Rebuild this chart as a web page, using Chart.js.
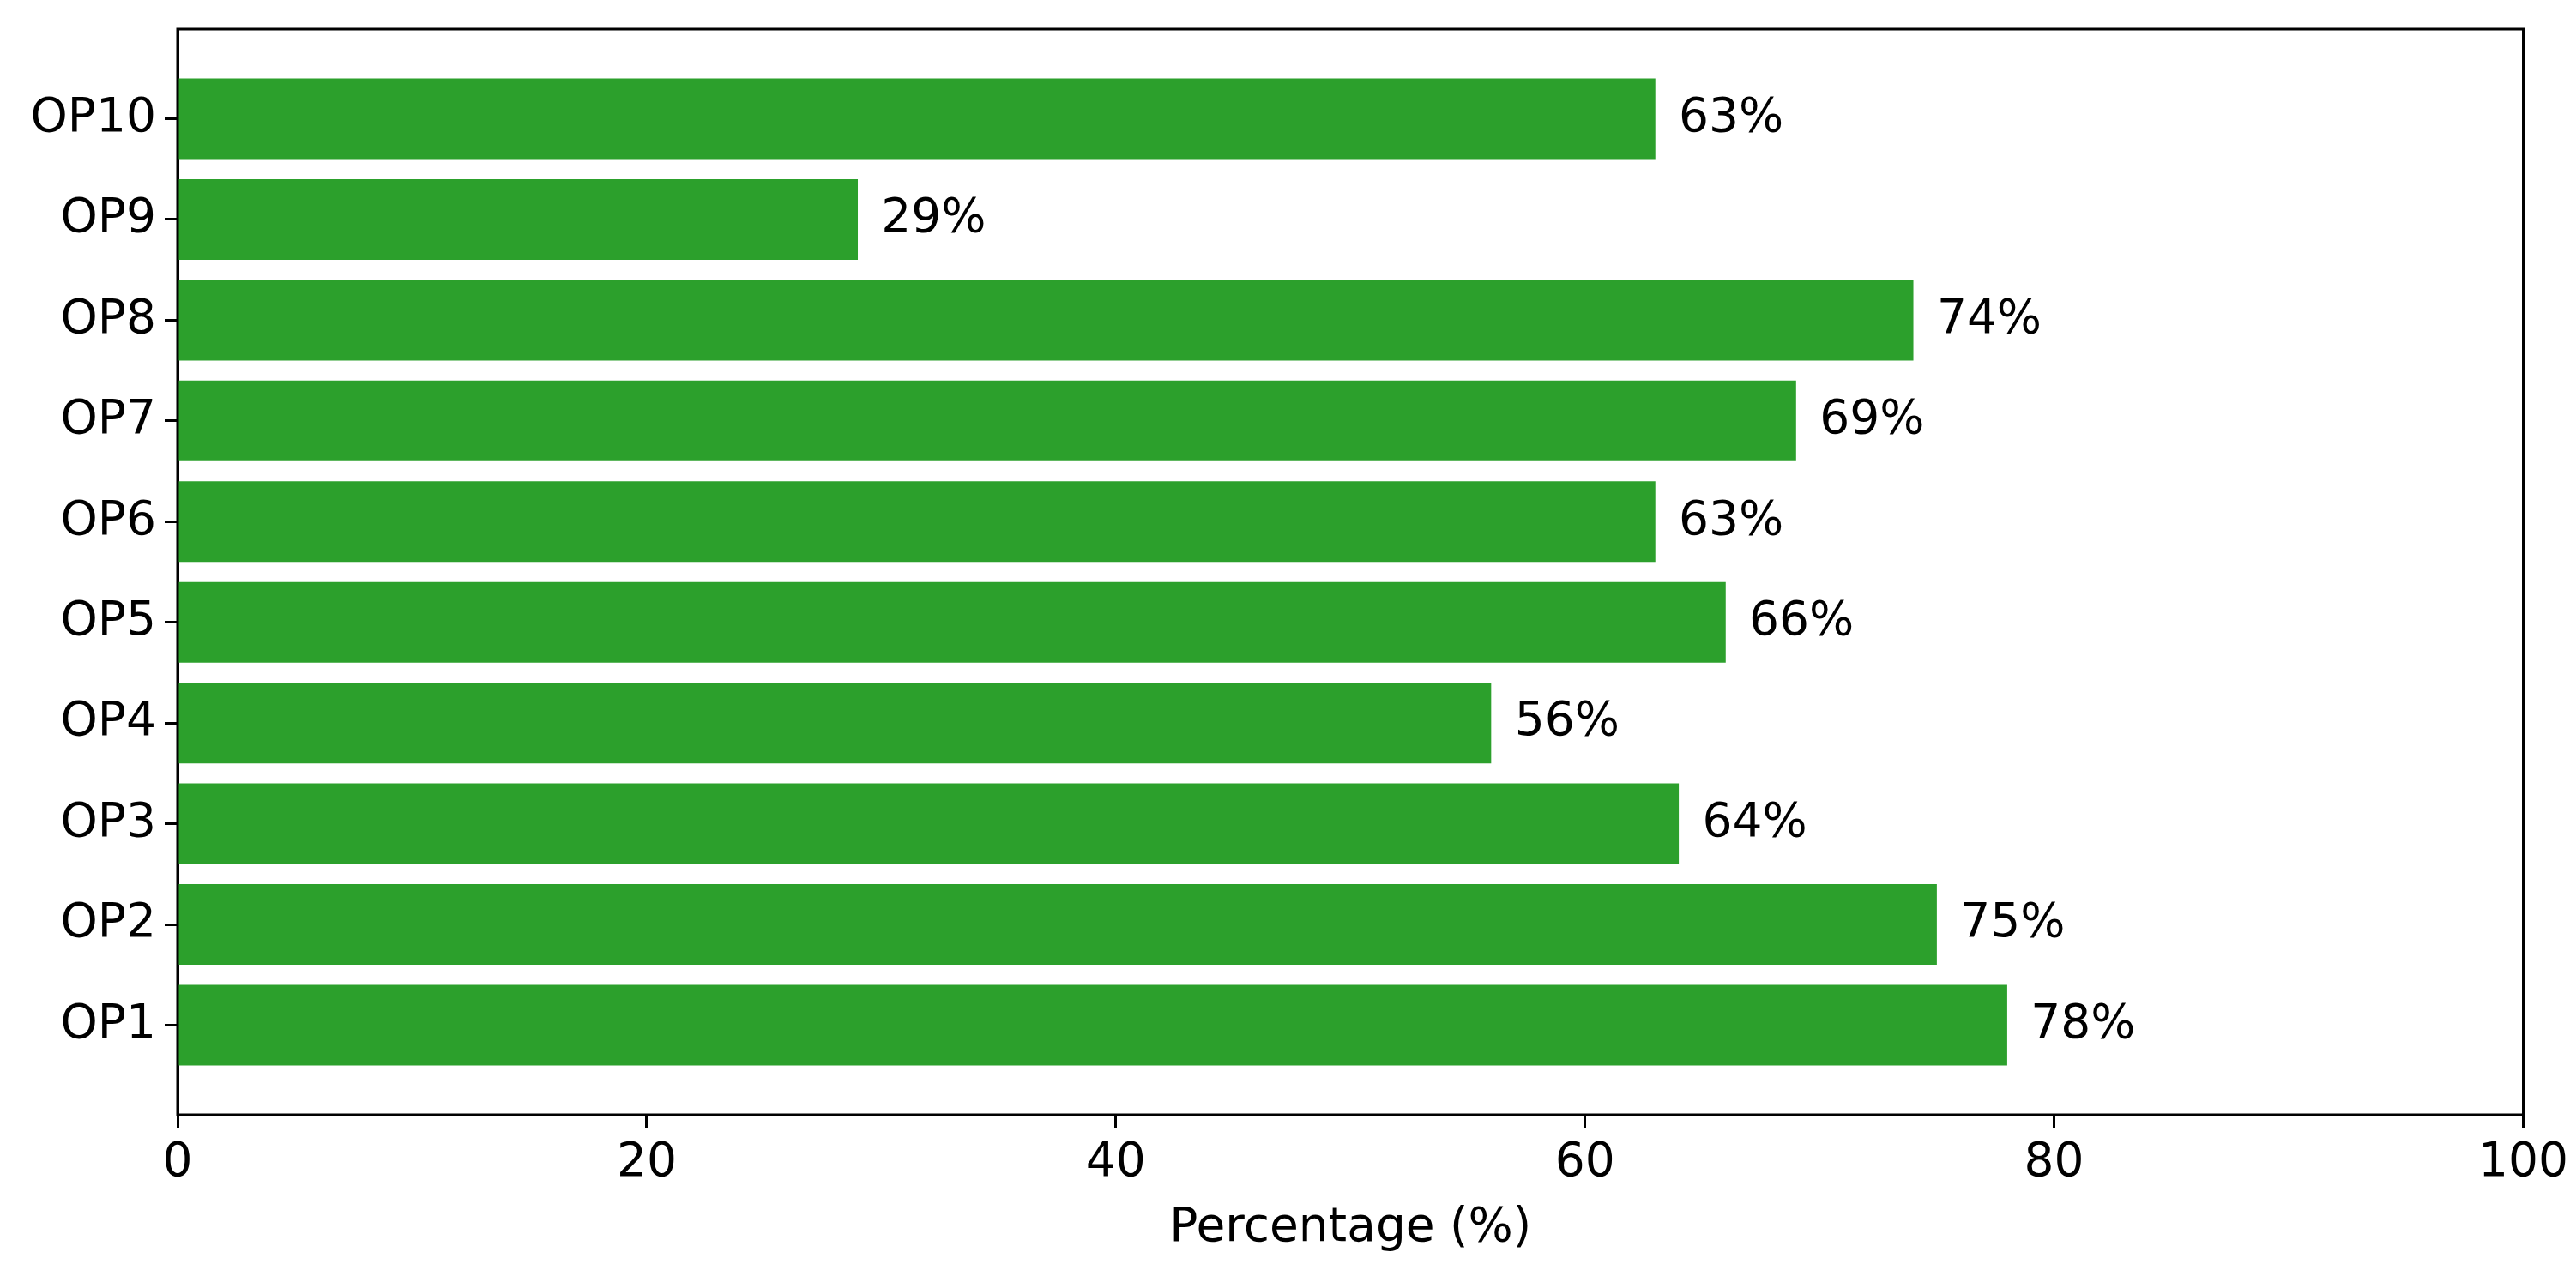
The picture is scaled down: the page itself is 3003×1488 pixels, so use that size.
<!DOCTYPE html>
<html>
<head>
<meta charset="utf-8">
<script src="https://cdn.jsdelivr.net/npm/chart.js@4.4.1/dist/chart.umd.min.js"></script>
<style>
  body { margin: 0; background: #fff; }
  canvas { display: block; }
</style>
</head>
<body>
<canvas id="barChart" width="3003" height="1488"></canvas>
<script>
  const categories = ['OP1', 'OP2', 'OP3', 'OP4', 'OP5', 'OP6', 'OP7', 'OP8', 'OP9', 'OP10']
  const percentages = [78, 75, 64, 56, 66, 63, 69, 74, 29, 63]
  const xTicks = [0, 20, 40, 60, 80, 100]

  const FONT = 'DejaVu Sans'
  const SIZE = 55
  const INK = '#000'

  // value labels just right of each bar
  const barLabels = {
    id: 'barLabels',
    afterDatasetsDraw(chart) {
      const ctx = chart.ctx
      const xScale = chart.scales.x
      const meta = chart.getDatasetMeta(0)
      ctx.save()
      ctx.font = SIZE + 'px "' + FONT + '"'
      ctx.fillStyle = INK
      ctx.textAlign = 'left'
      ctx.textBaseline = 'middle'
      meta.data.forEach((bar, i) => {
        ctx.fillText(percentages[i] + '%', xScale.getPixelForValue(percentages[i] + 1), bar.y)
      })
      ctx.restore()
    }
  }

  // box around the plot area
  const frame = {
    id: 'frame',
    afterDraw(chart) {
      const a = chart.chartArea
      const ctx = chart.ctx
      ctx.save()
      ctx.strokeStyle = INK
      ctx.lineWidth = 3
      ctx.strokeRect(a.left, a.top, a.right - a.left, a.bottom - a.top)
      ctx.restore()
    }
  }

  new Chart(document.getElementById('barChart'), {
    type: 'bar',
    data: {
      datasets: [{
        data: percentages.map((v, i) => ({ x: v, y: i })),
        backgroundColor: '#2ca02c',
        borderWidth: 0,
        barPercentage: 0.8,
        categoryPercentage: 1
      }]
    },
    options: {
      indexAxis: 'y',
      responsive: false,
      devicePixelRatio: 1,
      animation: false,
      layout: { padding: { top: 34, right: 59, left: 0, bottom: 0 } },
      plugins: { legend: { display: false }, tooltip: { enabled: false } },
      scales: {
        x: {
          type: 'linear',
          min: 0,
          max: 100,
          afterBuildTicks: s => { s.ticks = xTicks.map(v => ({ value: v })) },
          afterFit: s => { s.height = 188 },
          grid: { drawOnChartArea: false, tickLength: 15, tickWidth: 3, tickColor: INK },
          border: { display: true, color: INK, width: 3 },
          ticks: { color: INK, padding: 9, font: { family: FONT, size: SIZE } },
          title: {
            display: true,
            text: 'Percentage (%)',
            color: INK,
            font: { family: FONT, size: SIZE },
            padding: { top: 0, bottom: 22 }
          }
        },
        y: {
          type: 'linear',
          min: -0.89,
          max: 9.89,
          offset: false,
          afterBuildTicks: s => { s.ticks = categories.map((c, i) => ({ value: i })) },
          afterFit: s => { s.width = 207; s.paddingTop = 0; s.paddingBottom = 0 },
          grid: { offset: false, drawOnChartArea: false, tickLength: 15, tickWidth: 3, tickColor: INK },
          border: { display: true, color: INK, width: 3 },
          ticks: {
            color: INK,
            padding: 10,
            font: { family: FONT, size: SIZE },
            callback: v => categories[v] ?? ''
          }
        }
      }
    },
    plugins: [barLabels, frame]
  })
</script>
</body>
</html>
